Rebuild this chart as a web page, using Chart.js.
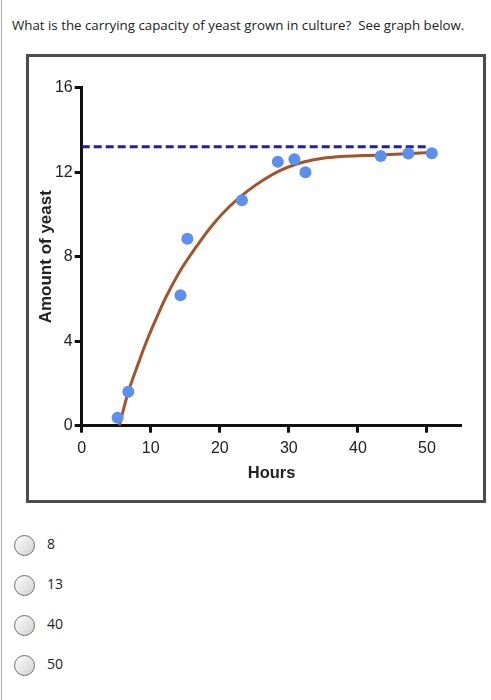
<!DOCTYPE html>
<html>
<head>
<meta charset="utf-8">
<script src="https://cdn.jsdelivr.net/npm/chart.js@4.4.0/dist/chart.umd.min.js"></script>
<style>
  body { margin: 0; background: #fff; width: 491px; height: 700px; position: relative; overflow: hidden; }
  .edge { position: absolute; left: 1px; top: 0; width: 1px; height: 700px; background: #a8a8a8; }
  .question { position: absolute; left: 12px; top: 16px; font: 13.3px "Open Sans", sans-serif; color: #222; white-space: nowrap; }
  .frame { position: absolute; left: 26px; top: 54px; width: 454px; height: 443px; border: 3px solid #4d4d4d; }
  .frame canvas { position: absolute; left: 0; top: 0; }
  .choice { position: absolute; left: 14px; height: 22px; font: 14px "Open Sans", sans-serif; color: #222; line-height: 22px; }
  .radio { display: inline-block; width: 19px; height: 19px; border: 1px solid #6e6e6e; border-radius: 50%;
           background: linear-gradient(135deg, #fbfbfb 0%, #e6e6e6 55%, #cfcfcf 100%); vertical-align: middle; margin-right: 12px; }
</style>
</head>
<body>
<div class="edge"></div>
<div class="question">What is the carrying capacity of yeast grown in culture?&nbsp; See graph below.</div>
<div class="frame"><canvas id="yeastChart" width="454" height="443"></canvas></div>
<div class="choice" style="top:533px"><span class="radio"></span>8</div>
<div class="choice" style="top:573px"><span class="radio"></span>13</div>
<div class="choice" style="top:613px"><span class="radio"></span>40</div>
<div class="choice" style="top:653px"><span class="radio"></span>50</div>

<script>
// measured points
const hours = [5.2, 6.75, 14.3, 15.3, 23.2, 28.4, 30.8, 32.4, 43.3, 47.3, 50.7];
const yeast = [0.38, 1.61, 6.18, 8.85, 10.67, 12.5, 12.61, 12.0, 12.77, 12.88, 12.9];

// fitted curve
const fitHours = [5.45, 6.76, 8.2, 9.4, 10.9, 12.3, 14.48, 16.65, 19.06, 21.47, 23.9, 26.3, 28.7, 31.13, 33.5, 35.95, 43.2, 50.5];
const fitYeast = [0, 1.61, 2.95, 4.0, 5.15, 6.15, 7.45, 8.5, 9.55, 10.4, 11.08, 11.63, 12.07, 12.39, 12.58, 12.7, 12.82, 12.93];

// carrying capacity line
const capHours = [0, 50.4];
const capYeast = [13.2, 13.2];

const xTicks = [0, 10, 20, 30, 40, 50];
const yTicks = [0, 4, 8, 12, 16];

function toXY(xs, ys) {
  return xs.map(function (x, i) { return { x: x, y: ys[i] }; });
}

var ctx = document.getElementById('yeastChart').getContext('2d');
var yeastChart = new Chart(ctx, {
  type: 'scatter',
  data: {
    datasets: [
      {
        data: toXY(hours, yeast),
        pointRadius: 6,
        pointBackgroundColor: '#5b8ff0',
        pointBorderWidth: 0,
        order: 0
      },
      {
        data: toXY(fitHours, fitYeast),
        showLine: true,
        borderColor: '#a4532b',
        borderWidth: 3,
        pointRadius: 0,
        tension: 0.4,
        order: 1
      },
      {
        data: toXY(capHours, capYeast),
        showLine: true,
        borderColor: '#1f1fae',
        borderWidth: 3,
        borderDash: [8, 4],
        pointRadius: 0,
        order: 2
      }
    ]
  },
  options: {
    responsive: false,
    animation: false,
    layout: { padding: { left: 2.7, right: 21.5, top: 30.7, bottom: 14.3 } },
    plugins: { legend: { display: false }, tooltip: { enabled: false } },
    scales: {
      x: {
        type: 'linear',
        min: 0,
        max: 55,
        afterBuildTicks: function (s) { s.ticks = xTicks.map(function (v) { return { value: v }; }); },
        afterFit: function (s) { s.height = 60; },
        border: { color: '#111', width: 3 },
        grid: { drawOnChartArea: false, tickLength: 7, tickWidth: 3, tickColor: '#111' },
        ticks: { color: '#222', padding: 6, font: { family: 'Liberation Sans', size: 16 } },
        title: {
          display: true,
          text: 'Hours',
          color: '#222',
          padding: { top: 4, bottom: 2 },
          font: { family: 'Liberation Sans', size: 16.5, weight: 'bold' }
        }
      },
      y: {
        type: 'linear',
        min: 0,
        max: 16,
        afterBuildTicks: function (s) { s.ticks = yTicks.map(function (v) { return { value: v }; }); },
        afterFit: function (s) { s.width = 50; },
        border: { color: '#111', width: 3 },
        grid: { drawOnChartArea: false, tickLength: 7, tickWidth: 3, tickColor: '#111' },
        ticks: { color: '#222', padding: 2, font: { family: 'Liberation Sans', size: 16 } },
        title: {
          display: true,
          text: 'Amount of yeast',
          color: '#222',
          padding: { top: 4, bottom: 2 },
          font: { family: 'Liberation Sans', size: 17, weight: 'bold' }
        }
      }
    }
  }
});
</script>
</body>
</html>
